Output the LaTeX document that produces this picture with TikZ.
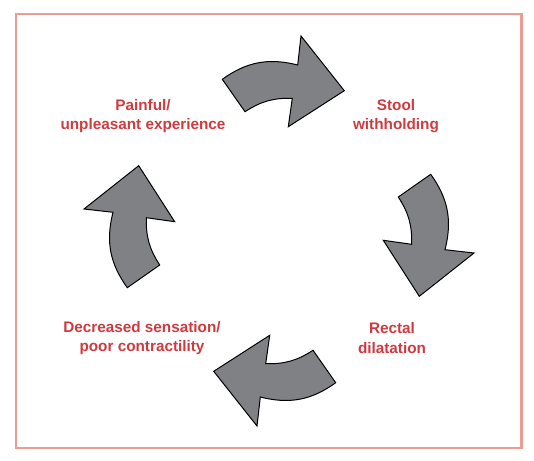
\documentclass[tikz,border=0pt]{standalone}
\usepackage{xcolor}
\usepackage{fontspec}
\setmainfont{Liberation Sans}
\usepackage{tikz}
\usetikzlibrary{shapes.geometric, arrows, positioning}

\definecolor{stagered}{RGB}{208,58,62}
\definecolor{arrowgrey}{RGB}{128,129,133}
\definecolor{framepink}{RGB}{238,155,145}

\begin{document}
\begin{tikzpicture}[x=1pt, y=1pt, node distance=253pt, auto]
    \tikzstyle{stage} = [text=stagered, font=\bfseries\fontsize{15.3}{19.5}\selectfont, align=center]
    \tikzstyle{cyclearrow} = [draw=black, line width=1pt, fill=arrowgrey, line join=miter]
    \tikzstyle{frame} = [draw=framepink, line width=2.4pt]

    \useasboundingbox (-279,231) rectangle (255,-229);
    \draw [frame] (-263,217) rectangle (242.5,-217);

    \node (pain) [stage] at (-136,115) {Painful/\\unpleasant experience};
    \node (stool) [stage, right of=pain] {Stool\\withholding};
    \node (rectal) [stage, below of=stool, node distance=222pt, xshift=-4pt] {Rectal\\dilatation};
    \node (sensation) [stage, left of=rectal, node distance=250pt] {Decreased sensation/\\poor contractility};

    % one curved arrow, turned four times round the cycle
    \foreach \ang in {0,-90,-180,-270} {
        \draw [cyclearrow, rotate=\ang] (-56.7,151.7) to[bend left=25] (18.7,166) -- (22,195)
            -- (65.3,140.3) -- (9.3,104.3) -- (13.3,132.7) to[bend right=17] (-34,119.3) -- cycle;
    }
\end{tikzpicture}
\end{document}
